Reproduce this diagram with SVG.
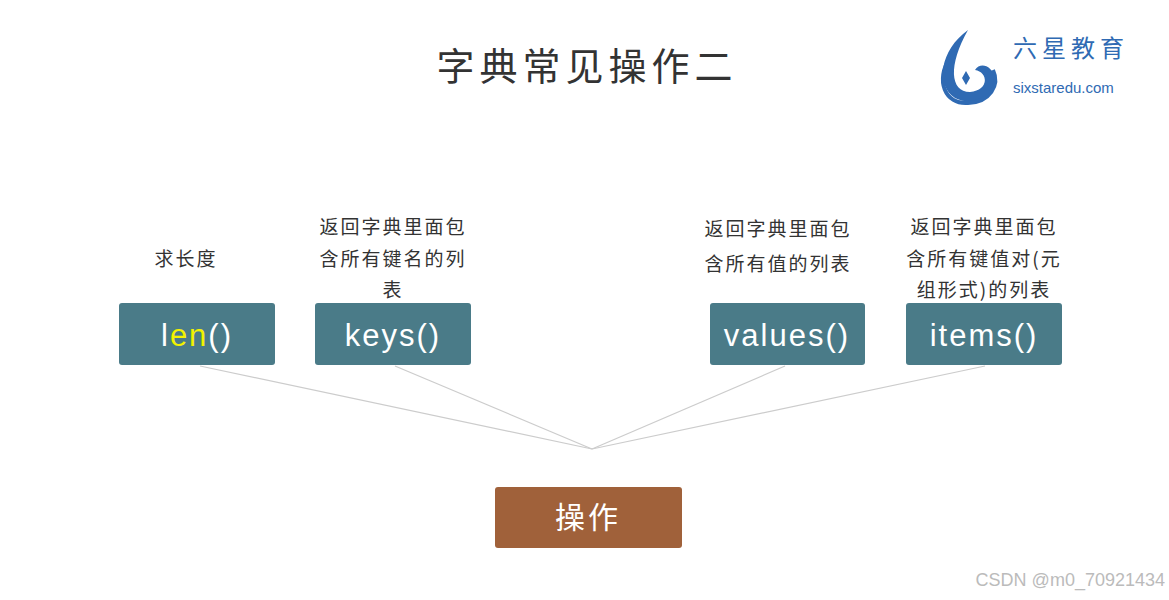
<svg xmlns="http://www.w3.org/2000/svg" width="1169" height="600" viewBox="0 0 1169 600">
<style>
.box{fill:#4A7B88;rx:3}
.bt{font-family:"Liberation Sans",sans-serif;font-size:31px;fill:#fff;text-anchor:middle;letter-spacing:2px}
.lb{font-family:"Noto Sans CJK SC",sans-serif;font-size:19px;fill:#333;text-anchor:middle;letter-spacing:2px}
.ln{stroke:#ccc;stroke-width:1.2;fill:none}
</style>
<rect width="1169" height="600" fill="#fff"/>
<text x="587" y="80" font-family="Noto Sans CJK SC,sans-serif" font-size="38" fill="#333" text-anchor="middle" letter-spacing="5">字典常见操作二</text>
<g id="logo">
<path d="M968 30 C940 50 935 85 955 98 C975 108 998 95 995 78 C992 65 980 62 975 70 C988 72 990 90 970 92 C950 92 948 65 968 30Z" fill="#2F6AB3"/>
<path d="M950 58 C935 80 945 105 968 103 C990 102 1000 85 993 70" fill="none" stroke="#2F6AB3" stroke-width="4"/>
<path d="M966 71 l4 7 h-8z M966 85 l4 -7 h-8z" fill="#2F6AB3"/>
<text x="1013" y="57" font-family="Noto Sans CJK SC,sans-serif" font-size="24" fill="#2F6AB3" letter-spacing="5">六星教育</text>
<text x="1013" y="93" font-family="Liberation Sans,sans-serif" font-size="15" fill="#2F6AB3">sixstaredu.com</text>
</g>
<g id="connectors">
<line class="ln" x1="200" y1="366" x2="592" y2="449"/>
<line class="ln" x1="395" y1="366" x2="592" y2="449"/>
<line class="ln" x1="785" y1="366" x2="592" y2="449"/>
<line class="ln" x1="985" y1="366" x2="592" y2="449"/>
</g>
<g id="len"><rect class="box" x="119" y="303" width="156" height="62"/><text class="bt" x="197" y="346">l<tspan fill="#F2F200">en</tspan>()</text>
<text class="lb" x="186" y="266">求长度</text></g>
<g id="keys"><rect class="box" x="315" y="303" width="156" height="62"/><text class="bt" x="393" y="346">keys()</text>
<text class="lb" x="393" y="234">返回字典里面包</text><text class="lb" x="393" y="266">含所有键名的列</text><text class="lb" x="393" y="297">表</text></g>
<g id="values"><rect class="box" x="710" y="303" width="155" height="62"/><text class="bt" x="787" y="346">values()</text>
<text class="lb" x="778" y="236">返回字典里面包</text><text class="lb" x="778" y="271">含所有值的列表</text></g>
<g id="items"><rect class="box" x="906" y="303" width="156" height="62"/><text class="bt" x="984" y="346">items()</text>
<text class="lb" x="984" y="234">返回字典里面包</text><text class="lb" x="984" y="266">含所有键值对(元</text><text class="lb" x="984" y="297">组形式)的列表</text></g>
<g id="op"><rect x="495" y="487" width="187" height="61" fill="#A0613A" rx="3"/><text x="588" y="528" font-family="Noto Sans CJK SC,sans-serif" font-size="30" fill="#fff" text-anchor="middle" letter-spacing="3">操作</text></g>
<text x="1165" y="586" font-family="Liberation Sans,sans-serif" font-size="18" fill="#bbb" text-anchor="end">CSDN @m0_70921434</text>
</svg>
